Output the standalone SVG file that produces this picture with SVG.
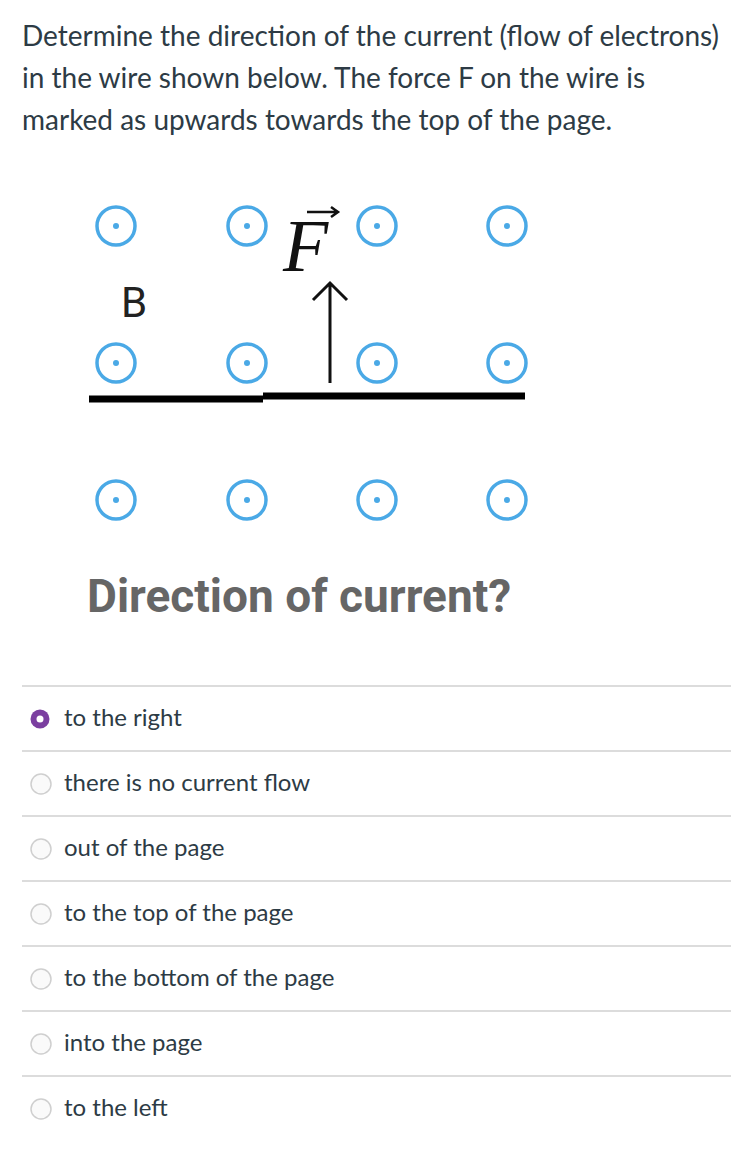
<svg xmlns="http://www.w3.org/2000/svg" width="748" height="1164" viewBox="0 0 748 1164">
<style>
.q{font-family:Lato,"Liberation Sans",sans-serif;font-size:28px;fill:#2d3b45}
.opt{font-family:Lato,"Liberation Sans",sans-serif;font-size:24px;fill:#2d3b45}
.b{fill:none;stroke:#4aa9e6;stroke-width:3.5}
.bd{fill:#4aa9e6}
.sep{stroke:#dcdcdc;stroke-width:2}
.rad{fill:#fafafa;stroke:#cfcfcf;stroke-width:1.5}
</style>
<defs>
<g id="bsym"><circle class="b" r="19"/><circle class="bd" r="3"/></g>
</defs>
<rect width="748" height="1164" fill="#fff"/>
<g id="question">
<text class="q" x="22" y="46">Determine the direction of the current (flow of electrons)</text>
<text class="q" x="22" y="88">in the wire shown below. The force F on the wire is</text>
<text class="q" x="22" y="130">marked as upwards towards the top of the page.</text>
</g>
<g id="field">
<use href="#bsym" x="116" y="226"/><use href="#bsym" x="247" y="226"/><use href="#bsym" x="377" y="226"/><use href="#bsym" x="507" y="226"/>
<use href="#bsym" x="116" y="363"/><use href="#bsym" x="247" y="363"/><use href="#bsym" x="377" y="363"/><use href="#bsym" x="507" y="363"/>
<use href="#bsym" x="116" y="500"/><use href="#bsym" x="247" y="500"/><use href="#bsym" x="377" y="500"/><use href="#bsym" x="507" y="500"/>
</g>
<g id="label-B"><text x="121" y="317" font-family="Roboto,'Liberation Sans',sans-serif" font-size="42" fill="#222">B</text></g>
<g id="force">
<text x="283" y="271" font-family="'Liberation Serif',serif" font-style="italic" font-size="74" fill="#111">F</text>
<path d="M307 212 H337 M331 207 L338 212 L331 217" fill="none" stroke="#111" stroke-width="2.5"/>
<path d="M330 383 V283 M313 300 L330 283 L347 300" fill="none" stroke="#111" stroke-width="3"/>
</g>
<g id="wire">
<path d="M89 399 H263" stroke="#000" stroke-width="7"/>
<path d="M263 396 H525" stroke="#000" stroke-width="7"/>
</g>
<g id="prompt"><text x="87" y="612" font-family="Roboto,'Liberation Sans',sans-serif" font-weight="bold" font-size="46" fill="#666">Direction of current?</text></g>
<g id="separators">
<line class="sep" x1="22" y1="686" x2="731" y2="686"/>
<line class="sep" x1="22" y1="751" x2="731" y2="751"/>
<line class="sep" x1="22" y1="816" x2="731" y2="816"/>
<line class="sep" x1="22" y1="881" x2="731" y2="881"/>
<line class="sep" x1="22" y1="946" x2="731" y2="946"/>
<line class="sep" x1="22" y1="1011" x2="731" y2="1011"/>
<line class="sep" x1="22" y1="1076" x2="731" y2="1076"/>
</g>
<g id="opt1"><circle cx="40" cy="719" r="9.5" fill="#7b3fa0"/><circle cx="40" cy="719" r="3.5" fill="#fff"/><text class="opt" x="64" y="726">to the right</text></g>
<g id="opt2"><circle class="rad" cx="41" cy="784" r="10"/><text class="opt" x="64" y="791">there is no current flow</text></g>
<g id="opt3"><circle class="rad" cx="41" cy="849" r="10"/><text class="opt" x="64" y="856">out of the page</text></g>
<g id="opt4"><circle class="rad" cx="41" cy="914" r="10"/><text class="opt" x="64" y="921">to the top of the page</text></g>
<g id="opt5"><circle class="rad" cx="41" cy="979" r="10"/><text class="opt" x="64" y="986">to the bottom of the page</text></g>
<g id="opt6"><circle class="rad" cx="41" cy="1044" r="10"/><text class="opt" x="64" y="1051">into the page</text></g>
<g id="opt7"><circle class="rad" cx="41" cy="1109" r="10"/><text class="opt" x="64" y="1116">to the left</text></g>
</svg>
